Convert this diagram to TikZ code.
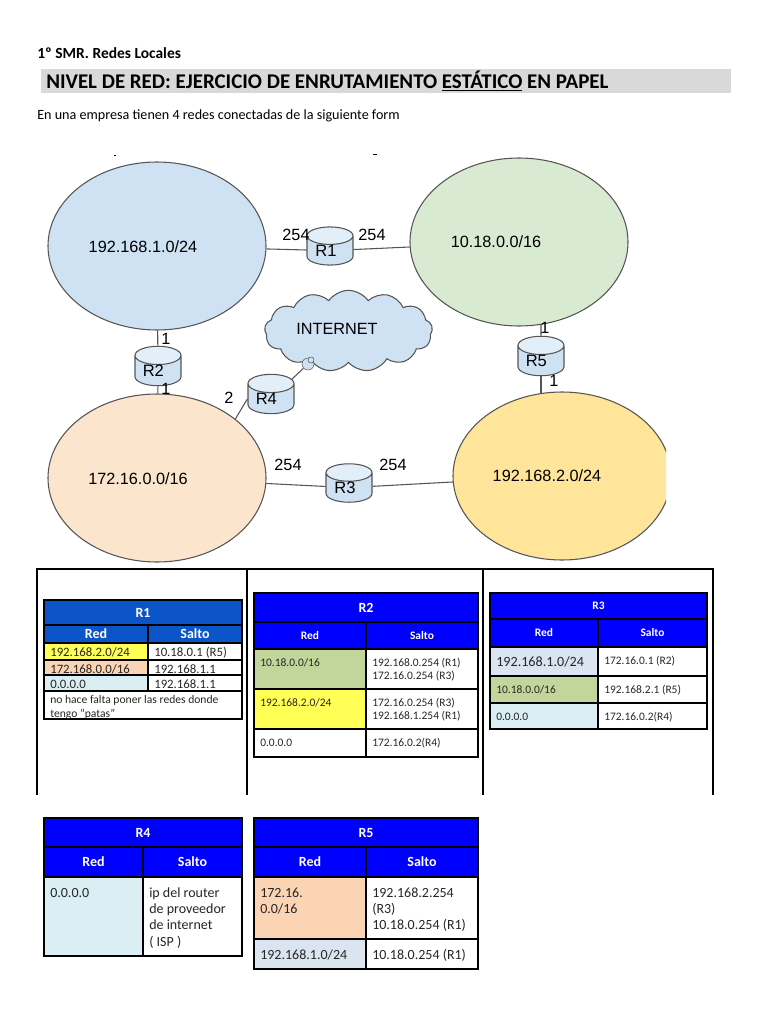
\documentclass[tikz,border=0pt]{standalone}
\usepackage{fontspec}
\setmainfont{Carlito}
\newfontfamily\netfont{Liberation Sans}
\usepackage{xcolor}
\usetikzlibrary{calc, positioning, shapes.geometric, shapes.symbols, backgrounds}
\definecolor{netBlue}{HTML}{CFE2F3}
\definecolor{netGreen}{HTML}{D9EAD3}
\definecolor{netOrange}{HTML}{FCE5CD}
\definecolor{netYellow}{HTML}{FFE599}
\definecolor{lineGray}{HTML}{555555}
\definecolor{bandGray}{HTML}{D9D9D9}
\definecolor{headR}{HTML}{0B55C8}
\definecolor{headB}{HTML}{0000FF}
\definecolor{cYellow}{HTML}{FFFF55}
\definecolor{cOrange}{HTML}{FBD4B4}
\definecolor{cPale}{HTML}{DAEEF3}
\definecolor{cGreen}{HTML}{C2D69B}
\definecolor{cSky}{HTML}{DBE5F1}
\tikzset{
    net/.style={ellipse, draw=lineGray, thick, minimum width=163.5pt, minimum height=126pt, inner sep=0pt},
    router/.style={cylinder, shape border rotate=90, aspect=0.6, anchor=shape center, draw=lineGray, thick, cylinder uses custom fill, cylinder body fill=netBlue, cylinder end fill=netBlue!60!white, minimum width=34.5pt, minimum height=28.5pt, inner sep=0pt, font=\netfont\fontsize{12.4}{14}\selectfont},
    netText/.style={font=\netfont\fontsize{12.2}{14}\selectfont, inner sep=0pt},
    link/.style={draw=lineGray, thick},
    cell/.style={rectangle, draw=black, line width=0.8pt, anchor=north west, inner sep=0pt, outer sep=0pt},
    cellText/.style={anchor=north west, inner sep=0pt, align=left, text=black!85},
    headText/.style={text=white, font=\bfseries\tfont, inner sep=0pt}
}
% name, x0, y0, x1, y1, fill, text
\newcommand{\dataCell}[7]{
    \node[cell, fill=#6, minimum width={(#4-#2)*0.75pt}, minimum height={(#5-#3)*0.75pt}] (#1) at (#2,#3) {};
    \node[cellText, font=\tfont] (#1t) at (#2+6,#3+\tpad) {\rule{0pt}{10pt}#7};
}
% name, x0, y0, x1, y1, fill, text
\newcommand{\headCell}[7]{
    \node[cell, fill=#6, minimum width={(#4-#2)*0.75pt}, minimum height={(#5-#3)*0.75pt}] (#1) at (#2,#3) {};
    \node[headText] (#1t) at (#1) {#7};
}
\begin{document}
\begin{tikzpicture}[x=0.75pt, y=-0.75pt]
        \useasboundingbox (0,0) rectangle (768,1024);

        % Title lines
        \node[anchor=west, inner sep=0pt, font=\bfseries\fontsize{11.6}{13}\selectfont] (Course) at (37,53) {1º SMR. Redes Locales};
        \node[anchor=north west, fill=bandGray, minimum width=517.5pt, minimum height=18pt, inner sep=0pt] (Band) at (41,69) {};
        \node[anchor=west, inner sep=0pt, font=\bfseries\fontsize{15.7}{18}\selectfont] (Title) at (46,81) {NIVEL DE RED: EJERCICIO DE ENRUTAMIENTO \underline{ESTÁTICO} EN PAPEL};
        \node[anchor=west, inner sep=0pt, font=\fontsize{10.6}{12}\selectfont] (Intro) at (37,116) {En una empresa tienen 4 redes conectadas de la siguiente form};
        \fill (114,155) rectangle (116,156);
        \fill (373,154) rectangle (377,155);

        % Networks
        \node[net, fill=netBlue] (NetA) at (157,246) {};
        \node[net, fill=netGreen] (NetB) at (519,242) {};
        \node[net, fill=netOrange] (NetC) at (157,478) {};
        \begin{scope}
            \clip (0,0) rectangle (666,1024);
            \node[net, fill=netYellow] (NetD) at (562,476) {};
        \end{scope}
        \node[netText] at (143,247) {192.168.1.0/24};
        \node[netText] at (496,242) {10.18.0.0/16};
        \node[netText] at (138,479) {172.16.0.0/16};
        \node[netText] at (547,476) {192.168.2.0/24};

        % Cloud
        \node[cloud, cloud puffs=13, cloud puff arc=110, cloud ignores aspect, draw=lineGray, thick, fill=netBlue, minimum width=126pt, minimum height=61pt, inner sep=0pt] (Inet) at (348.5,331) {};
        \node[netText] at (337,329) {INTERNET};
        \node[circle, draw=lineGray, fill=netBlue, minimum size=9pt, inner sep=0pt] (Joint) at (308,364) {};
        \node[circle, draw=lineGray, fill=netBlue, minimum size=4.5pt, inner sep=0pt] (JointB) at (311,360) {};

        % Routers
        \node[router] (R1) at (330,246) {R1\kern6pt};
        \node[router] (R2) at (158,366) {R2\kern7pt};
        \node[router] (R3) at (349,483) {R3\kern6pt};
        \node[router] (R4) at (271,394) {R4\kern7pt};
        \node[router] (R5) at (541,356) {R5\kern7pt};

        % Connections
        \begin{scope}[on background layer]
            \draw[link] (NetA) -- (R1);
            \draw[link] (R1) -- (NetB);
            \draw[link] (NetA) -- (R2);
            \draw[link] (R2) -- (NetC);
            \draw[link] (NetC) -- (R3);
            \draw[link] (R3) -- (NetD);
            \draw[link] (NetC.37) -- (R4.west);
            \draw[link] (R4) -- (Joint);
            \draw[link] (R5) -- (R5 |- NetB);
            \draw[link] (R5) -- (R5 |- NetD);
        \end{scope}

        % Port labels
        \node[netText] at (296,235) {254};
        \node[netText] at (372,235) {254};
        \node[netText] at (166,339) {1};
        \node[netText] at (166,389) {1};
        \node[netText] at (229,398) {2};
        \node[netText] at (288,465) {254};
        \node[netText] at (393,465) {254};
        \node[netText] at (545,328) {1};
        \node[netText] at (554,381) {1};

        % Frame of the tables
        \draw[line width=1pt] (37,795) -- (37,569) -- (713,569) -- (713,795);
        \draw[line width=1pt] (247,569) -- (247,795);
        \draw[line width=1pt] (483,569) -- (483,795);

        % Table R1
        \def\tfont{\fontsize{9.6}{10.3}\selectfont}
        \def\tpad{-0.3}
        \headCell{aHead}{44}{600}{242}{625}{headR}{\fontsize{10.5}{12}\selectfont R1}
        \headCell{aRed}{44}{625}{148}{643}{headR}{\fontsize{10.5}{12}\selectfont Red}
        \headCell{aHop}{148}{625}{242}{643}{headR}{\fontsize{10.5}{12}\selectfont Salto}
        \dataCell{aOne}{44}{643}{148}{660}{cYellow}{192.168.2.0/24}
        \dataCell{aOneH}{148}{643}{242}{660}{white}{10.18.0.1 (R5)}
        \dataCell{aTwo}{44}{660}{148}{675}{cOrange}{172.168.0.0/16}
        \dataCell{aTwoH}{148}{660}{242}{675}{white}{192.168.1.1}
        \dataCell{aDef}{44}{675}{148}{691}{cPale}{0.0.0.0}
        \dataCell{aDefH}{148}{675}{242}{691}{white}{192.168.1.1}
        \def\tfont{\fontsize{8.7}{10.3}\selectfont}
        \def\tpad{-1.3}
        \dataCell{aNote}{44}{691}{242}{719}{white}{no hace falta poner las redes donde\\tengo “patas”}

        % Table R2
        \def\tfont{\fontsize{8.6}{10}\selectfont}
        \def\tpad{3.7}
        \headCell{bHead}{254}{593}{478}{622}{headB}{\fontsize{10.5}{12}\selectfont R2}
        \headCell{bRed}{254}{622}{366}{649}{headB}{Red}
        \headCell{bHop}{366}{622}{478}{649}{headB}{Salto}
        \dataCell{bOne}{254}{649}{366}{689}{cGreen}{10.18.0.0/16}
        \dataCell{bOneH}{366}{649}{478}{689}{white}{192.168.0.254 (R1)\\172.16.0.254 (R3)}
        \dataCell{bTwo}{254}{689}{366}{729}{cYellow}{192.168.2.0/24}
        \dataCell{bTwoH}{366}{689}{478}{729}{white}{172.16.0.254 (R3)\\192.168.1.254 (R1)}
        \dataCell{bDef}{254}{729}{366}{757}{white}{0.0.0.0}
        \dataCell{bDefH}{366}{729}{478}{757}{white}{172.16.0.2(R4)}

        % Table R3
        \def\tfont{\fontsize{8.6}{10}\selectfont}
        \def\tpad{3.7}
        \headCell{cHead}{490}{593}{707}{619}{headB}{R3}
        \headCell{cRed}{490}{619}{598}{647}{headB}{Red}
        \headCell{cHop}{598}{619}{707}{647}{headB}{Salto}
        \def\tpad{5.7}
        \dataCell{cOne}{490}{647}{598}{676}{cSky}{\fontsize{10.6}{12}\selectfont 192.168.1.0/24}
        \def\tpad{3.7}
        \dataCell{cOneH}{598}{647}{707}{676}{white}{172.16.0.1 (R2)}
        \dataCell{cTwo}{490}{676}{598}{703}{cGreen}{10.18.0.0/16}
        \dataCell{cTwoH}{598}{676}{707}{703}{white}{192.168.2.1 (R5)}
        \dataCell{cDef}{490}{703}{598}{729}{cPale}{0.0.0.0}
        \dataCell{cDefH}{598}{703}{707}{729}{white}{172.16.0.2(R4)}

        % Table R4
        \def\tfont{\fontsize{10.5}{12.2}\selectfont}
        \def\tpad{6.7}
        \headCell{dHead}{44}{818}{242}{847}{headB}{R4}
        \headCell{dRed}{44}{847}{143}{877}{headB}{Red}
        \headCell{dHop}{143}{847}{242}{877}{headB}{Salto}
        \dataCell{dDef}{44}{877}{143}{956}{cPale}{0.0.0.0}
        \dataCell{dDefH}{143}{877}{242}{956}{white}{ip del router\\de proveedor\\de internet\\( ISP )}

        % Table R5
        \headCell{eHead}{254}{818}{478}{847}{headB}{R5}
        \headCell{eRed}{254}{847}{366}{877}{headB}{Red}
        \headCell{eHop}{366}{847}{478}{877}{headB}{Salto}
        \dataCell{eOne}{254}{877}{366}{939}{cOrange}{172.16.\\0.0/16}
        \dataCell{eOneH}{366}{877}{478}{939}{white}{192.168.2.254\\(R3)\\10.18.0.254 (R1)}
        \dataCell{eTwo}{254}{939}{366}{969}{cSky}{192.168.1.0/24}
        \dataCell{eTwoH}{366}{939}{478}{969}{white}{10.18.0.254 (R1)}
    \end{tikzpicture}
\end{document}
